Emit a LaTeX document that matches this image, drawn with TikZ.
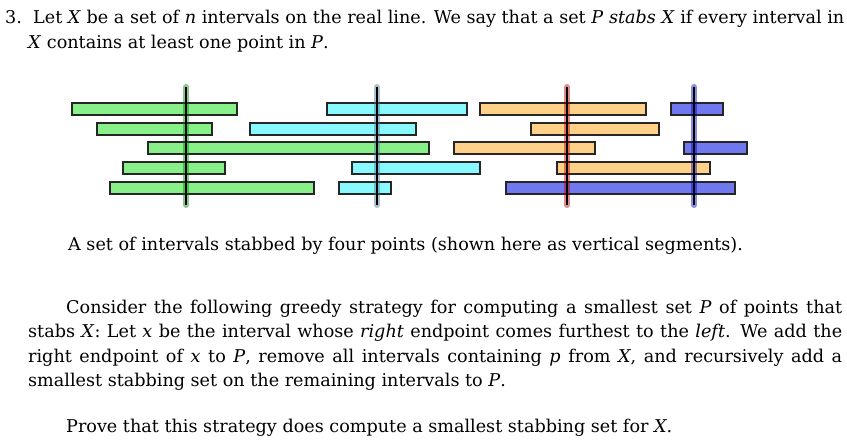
\documentclass[tikz,border=0pt]{standalone}
\usepackage{fontspec}
\setmainfont{DejaVu Serif}
\newcommand\vv[1]{\textit{#1}}
\begin{document}
\begin{tikzpicture}[x=1pt,y=-1pt,
  iv/.style={draw=black!85,line width=1.2pt},
  stab/.style={line width=2pt,draw=black},
  glow/.style={line width=6pt,line cap=round,opacity=0.45},
  txt/.style={anchor=base west,inner sep=0pt,font=\fontsize{17.6}{24}\selectfont}]
\useasboundingbox (0,0) rectangle (847,443);
\definecolor{gr}{HTML}{88F088}\definecolor{cy}{HTML}{88FAFF}
\definecolor{og}{HTML}{FFD088}\definecolor{bl}{HTML}{7078F0}
\newcommand\iv[4]{\path[iv,fill=#1] (#2,#4-6) rectangle (#3,#4+6);}
\iv{gr}{72}{237}{109}\iv{cy}{327}{467}{109}\iv{og}{480}{646}{109}\iv{bl}{671}{723}{109}
\iv{gr}{97}{212}{129}\iv{cy}{250}{416}{129}\iv{og}{531}{659}{129}
\iv{gr}{148}{429}{148}\iv{og}{454}{595}{148}\iv{bl}{684}{747}{148}
\iv{gr}{123}{225}{168}\iv{cy}{352}{480}{168}\iv{og}{557}{710}{168}
\iv{gr}{110}{314}{188}\iv{cy}{339}{391}{188}\iv{bl}{506}{735}{188}
\foreach \x/\c in {186/green!50!black,377/cyan!50!black,567/red!70!black,694/blue!70!black}{
  \draw[glow,\c] (\x,87) -- (\x,205);
  \draw[stab] (\x,87) -- (\x,205);}
\node[txt] (l1) at (5,24) {3.\ \ Let \vv{X} be a set of \vv{n} intervals on the real line. We say that a set \vv{P} \textit{stabs} \vv{X} if every interval in};
\node[txt] (l2) at (28,49) {\vv{X} contains at least one point in \vv{P}.};
\node[txt] (cap) at (68,251) {A set of intervals stabbed by four points (shown here as vertical segments).};
\node[anchor=north west,inner sep=0pt,text width=814pt,align=justify,font=\fontsize{17.6}{24.3}\selectfont] (par) at (28,300)
{\hspace*{38pt}Consider the following greedy strategy for computing a smallest set \vv{P} of points that\linebreak
stabs \vv{X}: Let \vv{x} be the interval whose \textit{right} endpoint comes furthest to the \textit{left}. We add the\linebreak
right endpoint of \vv{x} to \vv{P}, remove all intervals containing \vv{p} from \vv{X}, and recursively add a\linebreak
smallest stabbing set on the remaining intervals to \vv{P}.};
\node[txt] (last) at (66,433) {Prove that this strategy does compute a smallest stabbing set for \vv{X}.};
\end{tikzpicture}
\end{document}
